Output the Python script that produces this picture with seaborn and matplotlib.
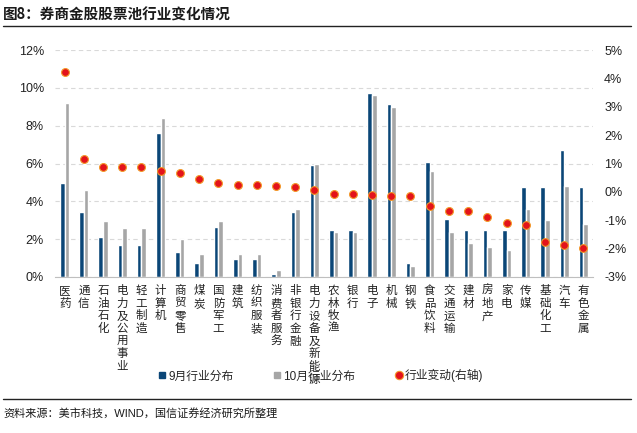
"""
图8：券商金股股票池行业变化情况
9月/10月行业分布柱状图 + 行业变动散点（右轴）
"""
import numpy as np
import pandas as pd
import matplotlib
matplotlib.use('Agg')
import matplotlib.pyplot as plt
from matplotlib.lines import Line2D
from matplotlib.ticker import FuncFormatter, FixedLocator
import seaborn as sns

# 数据（从图中读取，单位 %）
industries = ['医药', '通信', '石油石化', '电力及公用事业', '轻工制造', '计算机', '商贸零售',
              '煤炭', '国防军工', '建筑', '纺织服装', '消费者服务', '非银行金融', '电力设备及新能源',
              '农林牧渔', '银行', '电子', '机械', '钢铁', '食品饮料', '交通运输', '建材',
              '房地产', '家电', '传媒', '基础化工', '汽车', '有色金属']
sep_share = [4.95, 3.42, 2.10, 1.71, 1.71, 7.62, 1.34, 0.76, 2.66, 0.95, 0.95, 0.18, 3.42, 5.91,
             2.47, 2.47, 9.72, 9.14, 0.76, 6.09, 3.05, 2.47, 2.47, 2.47, 4.78, 4.78, 6.69, 4.78]
oct_share = [9.20, 4.59, 2.98, 2.57, 2.57, 8.39, 1.99, 1.20, 2.98, 1.20, 1.20, 0.39, 3.58, 6.00,
             2.40, 2.40, 9.60, 9.00, 0.60, 5.59, 2.40, 1.80, 1.59, 1.41, 3.58, 3.00, 4.82, 2.81]
change = [4.24, 1.16, 0.89, 0.87, 0.87, 0.75, 0.66, 0.44, 0.33, 0.25, 0.25, 0.21, 0.16, 0.08,
          -0.07, -0.07, -0.12, -0.15, -0.15, -0.51, -0.66, -0.68, -0.88, -1.08, -1.16, -1.78, -1.88, -1.98]
series_names = ['9月行业分布', '10月行业分布']
change_name = '行业变动(右轴)'

BLUE = '#0B4677'
GRAY = '#A6A6A6'
RED = '#E3131B'
ORANGE = '#F39A2B'

sns.set_theme(style='white')
plt.rcParams['font.family'] = ['Liberation Sans', 'Noto Sans CJK SC', 'DejaVu Sans']
plt.rcParams['axes.unicode_minus'] = False

# 长表给 seaborn
df = pd.DataFrame({
    'industry': industries * 2,
    'share': sep_share + oct_share,
    'month': [series_names[0]] * len(industries) + [series_names[1]] * len(industries),
})

fig = plt.figure(figsize=(6.37, 4.33), dpi=100)
ax = fig.add_axes([0.0863, 0.3603, 0.8447, 0.5242])

sns.barplot(data=df, x='industry', y='share', hue='month', palette=[BLUE, GRAY],
            width=0.48, dodge=True, saturation=1, ax=ax, legend=False, zorder=2)

ax.set_xlim(-0.5, len(industries) - 0.5)
ax.set_ylim(0, 12)
ax.yaxis.set_major_locator(FixedLocator(np.arange(0, 13, 2)))
ax.yaxis.set_major_formatter(FuncFormatter(lambda v, _: f'{v:.0f}%'))
ax.grid(axis='y', color='#D9D9D9', linestyle=(0, (4, 3)), linewidth=0.8, zorder=0)
ax.set_axisbelow(True)
ax.set_xlabel('')
ax.set_ylabel('')

# 竖排标签（逐字换行）
ax.set_xticks(np.arange(len(industries)))
ax.set_xticklabels(['\n'.join(s) for s in industries], fontsize=8.3,
                   linespacing=0.97, va='top', family=['Noto Sans CJK SC'], color='#222222')
ax.tick_params(axis='x', which='major', length=0, pad=5)
ax.set_xticks(np.arange(len(industries) + 1) - 0.5, minor=True)
ax.tick_params(axis='x', which='minor', length=4, color='#BFBFBF', width=0.8, direction='out')
ax.tick_params(axis='y', length=0, labelsize=9, colors='#222222', pad=8)

for side in ['left', 'top', 'right']:
    ax.spines[side].set_visible(False)
ax.spines['bottom'].set_color('#BFBFBF')
ax.spines['bottom'].set_linewidth(0.8)

# 右轴：行业变动
ax2 = ax.twinx()
sns.scatterplot(x=np.arange(len(industries)), y=change, ax=ax2, color=RED,
                edgecolor=ORANGE, linewidth=0.8, s=32, zorder=5, legend=False)
ax2.set_ylim(-3, 5)
ax2.yaxis.set_major_locator(FixedLocator(np.arange(-3, 6, 1)))
ax2.yaxis.set_major_formatter(FuncFormatter(lambda v, _: f'{v:.0f}%'))
ax2.tick_params(axis='y', length=0, labelsize=9, colors='#222222', pad=8)
ax2.grid(False)
for side in ['left', 'top', 'right', 'bottom']:
    ax2.spines[side].set_visible(False)

# 图例
handles = [
    Line2D([], [], marker='s', linestyle='none', markersize=5, color=BLUE),
    Line2D([], [], marker='s', linestyle='none', markersize=5, color=GRAY),
    Line2D([], [], marker='o', linestyle='none', markersize=6, color=RED,
           markeredgecolor=ORANGE, markeredgewidth=0.8),
]
fig.legend(handles, series_names + [change_name], loc='center', bbox_to_anchor=(0.503, 0.132),
           ncol=3, frameon=False, handletextpad=0.1, columnspacing=3.3,
           handlelength=0.8, prop={'family': ['Liberation Sans', 'Noto Sans CJK SC'], 'size': 8.5})

# 标题与来源
fig.text(0.005, 0.967, '图8：券商金股股票池行业变化情况', fontsize=10.5, fontweight='bold',
         color='#1A1A1A', va='center', ha='left', family=['Noto Sans CJK SC'])
fig.add_artist(Line2D([0.005, 0.99], [0.94, 0.94], color='#222222', linewidth=1.0))
fig.add_artist(Line2D([0.005, 0.99], [0.078, 0.078], color='#222222', linewidth=1.0))
fig.text(0.005, 0.046, '资料来源：美市科技，WIND，国信证券经济研究所整理', fontsize=8,
         color='#1A1A1A', va='center', ha='left')

fig.savefig('out.png', dpi=100)
